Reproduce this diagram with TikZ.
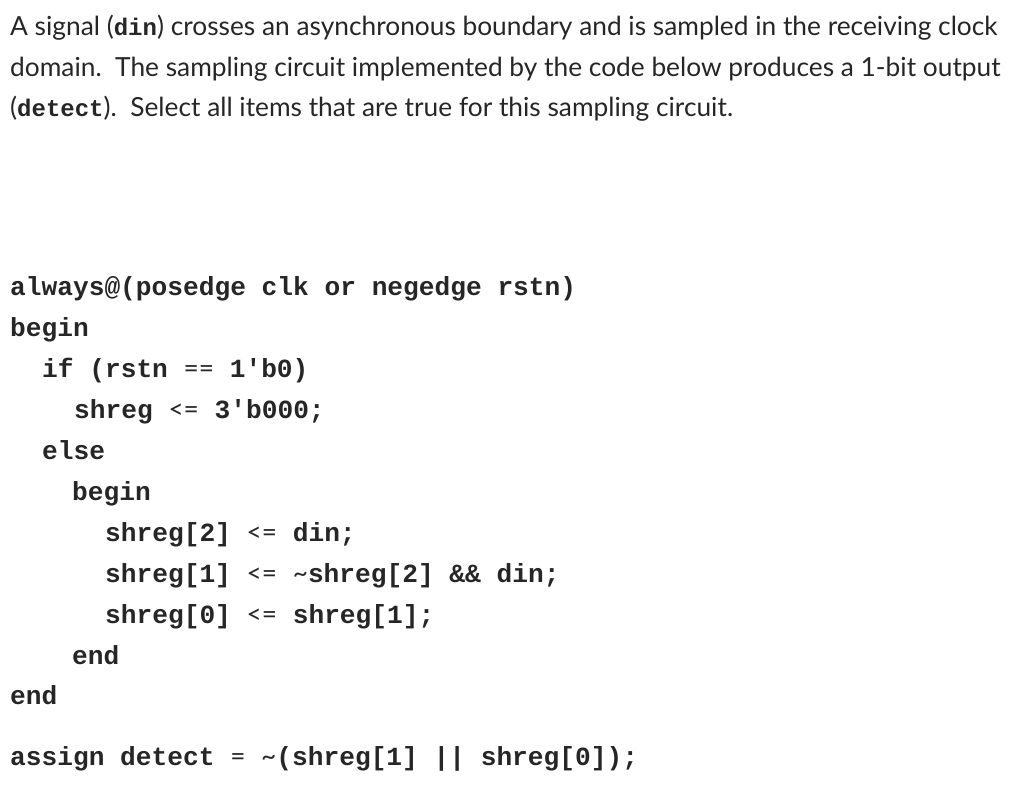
\documentclass[tikz,border=0pt]{standalone}
\usepackage{fontspec}
\setmainfont{Lato}
\setmonofont{Liberation Mono}[BoldFont={Liberation Mono Bold}]
\newfontfamily\latof{Lato}
\newcommand{\op}[1]{{\normalfont\latof #1}}
\begin{document}
\begin{tikzpicture}[x=1pt,y=-1pt,
  txt/.style={anchor=base west,inner sep=0pt,font=\fontsize{26.3}{30}\selectfont,text=black!85},
  code/.style={anchor=base west,inner sep=0pt,font=\fontsize{26.2}{30}\ttfamily\bfseries,text=black!85}]
\useasboundingbox (0,0) rectangle (1024,790);
\node[txt] (l1) at (10,35) {A signal ({\fontsize{24}{25}\ttfamily\bfseries din}) crosses an asynchronous boundary and is sampled in the receiving clock};
\node[txt] (l2) at (10,76) {domain.\ \ The sampling circuit implemented by the code below produces a 1-bit output};
\node[txt] (l3) at (10,116) {({\fontsize{24}{25}\ttfamily\bfseries detect}).\ \ Select all items that are true for this sampling circuit.};
\node[code] (c1) at (10,295) {always@(posedge clk or negedge rstn)};
\node[code] (c2) at (10,336) {begin};
\node[code] (c3) at (42,377) {if (rstn \op{==} 1'b0)};
\node[code] (c4) at (74,418) {shreg \op{<=} 3'b000;};
\node[code] (c5) at (42,459) {else};
\node[code] (c6) at (72,500) {begin};
\node[code] (c7) at (105,541) {shreg[2] \op{<=} din;};
\node[code] (c8) at (105,582) {shreg[1] \op{<=} \op{\textasciitilde}shreg[2] \&\& din;};
\node[code] (c9) at (105,623) {shreg[0] \op{<=} shreg[1];};
\node[code] (c10) at (72,664) {end};
\node[code] (c11) at (10,704) {end};
\node[code] (c12) at (10,765) {assign detect \op{=} \op{\textasciitilde}(shreg[1] || shreg[0]);};
\end{tikzpicture}
\end{document}
